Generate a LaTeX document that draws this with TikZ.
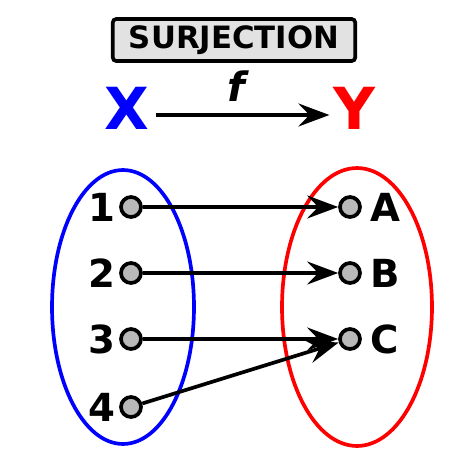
\documentclass[tikz,border=0pt]{standalone}
\usepackage{fontspec}
\setmainfont{DejaVu Sans}
\usetikzlibrary{arrows.meta}
\definecolor{dotgray}{RGB}{185,185,185}
\definecolor{boxgray}{RGB}{226,226,226}

\begin{document}
\begin{tikzpicture}[x = .02cm, y = -.02cm, line width = 2.1pt,
  dot/.style = {circle, draw, fill = dotgray, inner sep = 0pt, minimum size = .4cm},
  elem/.style = {font = \fontsize{22}{24}\selectfont\bfseries},
  map/.style = {-{Stealth[length = .62cm, width = .46cm, inset = .22cm]}}]
  \useasboundingbox (0,0) rectangle (474,474);
  % title
  \node (title) at (234,40) [draw, fill = boxgray, rounded corners = 2pt, minimum width = 4.85cm,
    minimum height = .84cm, inner sep = 0pt, font = \fontsize{17.5}{20}\selectfont\bfseries] {SURJECTION};
  \node (X) at (127,108) [inner sep = 3pt, text = blue, font = \fontsize{33}{36}\selectfont\bfseries] {X};
  \node (Y) at (354,108) [inner sep = 1pt, text = red, font = \fontsize{33}{36}\selectfont\bfseries] {Y};
  \node (f) at (236,86) [font = \fontsize{23}{26}\selectfont\bfseries\itshape] {f};
  \draw [map] ([yshift = -.14cm]X.east) -- ([yshift = -.14cm]Y.west);
  % the two sets
  \draw [blue] (123,307) ellipse [x radius = 1.42cm, y radius = 2.74cm];
  \draw [red]  (357,307) ellipse [x radius = 1.5cm, y radius = 2.78cm];
  % domain
  \node (n1) at (131,207) [dot, label = {[elem, inner sep = 1pt]left:1}] {};
  \node (n2) at (131,273) [dot, label = {[elem, inner sep = 1pt]left:2}] {};
  \node (n3) at (131,339) [dot, label = {[elem, inner sep = 1pt]left:3}] {};
  \node (n4) at (131,407) [dot, label = {[elem, inner sep = 1pt]left:4}] {};
  % codomain
  \node (a) at (350,207) [dot, label = {[elem, inner sep = 4pt]right:A}] {};
  \node (b) at (350,273) [dot, label = {[elem, inner sep = 4pt]right:B}] {};
  \node (c) at (350,339) [dot, label = {[elem, inner sep = 4pt]right:C}] {};
  \draw [map] (n1) -- (a);
  \draw [map] (n2) -- (b);
  \draw [map] (n3) -- (c);
  \draw [map] (n4) -- (c);
\end{tikzpicture}
\end{document}
